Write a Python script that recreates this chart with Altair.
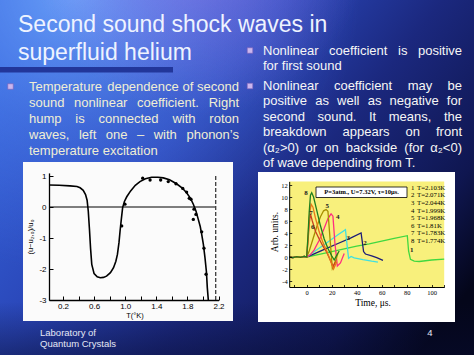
import json
import altair as alt
import pandas as pd

W, H = 474, 355

# ---------------- text content ----------------
title_lines = ["Second sound shock waves in", "superfluid helium"]
title_y = [32, 60]
left_lines = ["Temperature dependence of second", "sound nonlinear coefficient. Right",
              "hump is connected with roton", "waves, left one – with phonon’s",
              "temperature excitation"]
left_justify = [True, True, True, True, False]
left_y = [91, 107, 123, 139, 155]
right_lines = ["Nonlinear coefficient is positive", "for first sound",
               "Nonlinear coefficient may be", "positive as well as negative for",
               "second sound. It means, the", "breakdown appears on front",
               "(α₂>0) or on backside (for α₂<0)", "of wave depending from T."]
right_justify = [True, False, True, True, True, True, True, False]
right_y = [54.5, 70, 89.5, 105, 120.5, 136, 151.5, 167]
footer_lines = ["Laboratory of", "Quantum Crystals"]
page_number = "4"

# ---------------- plot 1: nonlinear coefficient vs T ----------------
curve_T = [0.02, 0.15, 0.29, 0.38, 0.42, 0.46, 0.49, 0.51, 0.525, 0.54, 0.555, 0.57, 0.60,
           0.64, 0.68, 0.72, 0.76, 0.81, 0.85, 0.88, 0.90, 0.92, 0.935, 0.95, 0.967, 0.99,
           1.02, 1.07, 1.13, 1.19, 1.26, 1.34, 1.42, 1.49, 1.57, 1.66, 1.73, 1.79, 1.84,
           1.876, 1.91, 1.94, 1.965, 1.984, 2.005, 2.026, 2.045, 2.056, 2.07]
curve_v = [0.71, 0.70, 0.68, 0.66, 0.62, 0.54, 0.40, 0.22, -0.13, -0.7, -1.35, -1.85, -2.15,
           -2.25, -2.28, -2.27, -2.23, -2.12, -1.96, -1.75, -1.53, -1.15, -0.75, -0.4, -0.02,
           0.18, 0.33, 0.52, 0.70, 0.82, 0.91, 0.96, 0.96, 0.94, 0.88, 0.75, 0.62, 0.46, 0.28,
           0.09, -0.13, -0.40, -0.63, -0.88, -1.2, -1.63, -2.1, -2.6, -3.03]
dots_T = [0.997, 0.955, 1.225, 1.32, 1.456, 1.554, 1.653, 1.74, 1.79, 1.824, 1.846, 1.885,
          1.876, 1.91, 1.984, 2.013, 2.04]
dots_v = [0.09, -0.61, 0.93, 0.87, 0.87, 0.82, 0.75, 0.60, 0.48, 0.28, 0.25, -0.07, -0.40,
          -0.24, -0.80, -1.33, -2.17]
p1_xticks = [0.2, 0.4, 0.6, 0.8, 1.0, 1.2, 1.4, 1.6, 1.8, 2.0, 2.2]
p1_xlabels = ["0.2", "0.6", "1.0", "1.4", "1.8", "2.2"]
p1_yticks = [-3, -2, -1, 0, 1]
lambda_T = 2.165
p1_xlabel = "T(°K)"
p1_ylabel = "(u−u₂,₀)/u₀"

# ---------------- plot 2: shock wave profiles ----------------
base_t = [-14, -11, -8, -5, -2, 0]
base_v = [0.0, -0.1, 0.05, -0.05, 0.1, 0.0]
curves_t = {
    "1": [10, 20, 30, 40, 50, 60, 70, 80.5, 81.5, 83, 86, 90, 100, 110],
    "2": [5, 15, 25, 35, 43.5, 44.5, 45.5, 47, 52, 56, 61],
    "3": [5, 15, 25, 31, 32.3, 33.5, 35.5, 38, 45, 52, 57],
    "4": [3, 6, 10, 14, 17, 19.5, 21, 22.5, 24.5, 27, 30],
    "5": [2, 5, 8, 11, 13.5, 15.5, 17, 18.5, 20.5, 22.5, 25],
    "6": [1, 2, 3, 4.5, 7, 10, 13, 16, 19, 21, 23],
    "7": [1, 2, 3.5, 5, 7, 10, 13, 16, 19, 21.5, 24],
    "8": [1, 2, 3, 4, 5.5, 8, 11, 14, 17, 20, 22, 24, 26],
}
curves_v = {
    "1": [0.45, 0.9, 1.35, 1.8, 2.2, 2.65, 3.1, 3.55, 1.0, -0.4, -0.7, -0.75, -0.5, -0.35],
    "2": [0.45, 1.35, 2.25, 3.15, 4.0, 2.5, 0.9, 0.5, 0.2, -0.1, -0.55],
    "3": [0.75, 2.2, 3.7, 4.55, 2.0, -0.2, 0.1, -0.15, -0.45, -0.7, -0.85],
    "4": [0.4, 1.2, 2.8, 4.8, 6.4, 7.2, 6.8, 2.5, -1.5, -1.0, 0.6],
    "5": [1.0, 3.0, 5.0, 6.7, 7.7, 7.9, 7.6, 3.5, -1.9, -1.0, 0.6],
    "6": [2.5, 5.5, 7.2, 6.0, 4.3, 3.0, 1.8, 0.8, -0.6, -1.6, -0.8],
    "7": [3.0, 6.5, 8.8, 8.3, 6.5, 4.2, 2.4, 1.0, -0.6, -2.0, -0.8],
    "8": [3.5, 7.5, 10.3, 10.7, 10.0, 7.8, 5.2, 3.0, 1.4, 0.2, -0.5, 0.3, 1.0],
}
curve_ids = ["1", "2", "3", "4", "5", "6", "7", "8"]
curve_colors = ["#40d840", "#1c1c78", "#40e0e0", "#ff2e80", "#a88e00", "#c8401e", "#e87818", "#1f7f1f"]
curve_temps = ["2.103", "2.071", "2.044", "1.999", "1.968", "1.81", "1.783", "1.774"]
label_t = [84, 46.6, 33.3, 24.8, 16.5, 4.8, 3.5, -0.5]
label_v = [1.2, 2.4, 3.2, 6.7, 8.55, 5.0, 7.3, 10.6]
p2_xticks = list(range(-10, 111, 10))
p2_yticks = [-4, -2, 0, 2, 4, 6, 8, 10, 12]
p2_box_text = "P=3atm., U=7.32V, τ=10μs."
p2_xlabel = "Time, μs."
p2_ylabel = "Arb. units."

# ---------------- helpers ----------------
AW = {" ": 278, "(": 333, ")": 333, ",": 278, "-": 333, ".": 278, "<": 584, ">": 584,
      "=": 584, "–": 556, "’": 222, "'": 191, "α": 578, "₂": 333}
for c in "0123456789":
    AW[c] = 556
AW.update(dict(zip("ABCDEFGHIJKLMNOPQRSTUVWXYZ",
                   [667, 667, 722, 722, 667, 611, 778, 722, 278, 500, 667, 556, 833, 722, 778,
                    667, 778, 722, 667, 611, 722, 667, 944, 667, 667, 611])))
AW.update(dict(zip("abcdefghijklmnopqrstuvwxyz",
                   [556, 556, 500, 556, 556, 278, 556, 556, 222, 222, 500, 222, 833, 556, 556,
                    556, 556, 333, 500, 278, 556, 500, 722, 500, 500, 500])))


def tw(s, size):
    return sum(AW.get(c, 556) for c in s) / 1000.0 * size


def layout_lines(lines, justify, ys, x0, x1, size):
    left, right = [], []
    for line, j, y in zip(lines, justify, ys):
        words = line.split(" ")
        if not j or len(words) == 1:
            left.append(dict(x=x0, y=y, text=line))
            continue
        ws = [tw(w, size) for w in words]
        gap = (x1 - x0 - sum(ws)) / (len(words) - 1)
        x = x0
        for k, (w, wd) in enumerate(zip(words, ws)):
            if k == len(words) - 1:
                right.append(dict(x=x1, y=y, text=w))
            else:
                left.append(dict(x=x, y=y, text=w))
            x += wd + gap
    return left, right


one = pd.DataFrame({"k": [0]})


def prect(x0, x1, y0, y1, **kw):
    return alt.Chart(one).mark_rect(**kw).encode(
        x=alt.value(x0), x2=alt.value(x1), y=alt.value(y0), y2=alt.value(y1))


def text_layer(rows, size, color, font="Liberation Sans", align="left", baseline="alphabetic",
               weight="normal", angle=0, opacity=1):
    df = pd.DataFrame(rows)
    return alt.Chart(df).mark_text(
        align=align, baseline=baseline, font=font, fontSize=size, fontWeight=weight,
        color=color, angle=angle, opacity=opacity).encode(
        x=alt.X("x:Q", scale=None, axis=None), y=alt.Y("y:Q", scale=None, axis=None),
        text="text:N")


def stops(pairs):
    return [alt.GradientStop(offset=o, color=c) for o, c in pairs]


layers = []

# ---------------- background ----------------
layers.append(prect(0, W, 0, H, fill=alt.LinearGradient(
    gradient="linear", x1=0, y1=0.2, x2=1, y2=0.8,
    stops=stops([(0, "#3566dc"), (0.35, "#2a46b8"), (0.6, "#1b287e"), (0.85, "#0f1650"), (1, "#04061a")]))))
layers.append(prect(0, W, 0, H, fill=alt.RadialGradient(
    gradient="radial", x1=0.16, y1=0.1, r1=0, x2=0.16, y2=0.1, r2=0.6,
    stops=stops([(0, "rgba(120,175,255,0.8)"), (0.5, "rgba(90,140,245,0.35)"), (1, "rgba(80,120,240,0)")]))))
layers.append(prect(0, W, 0, H, fill=alt.RadialGradient(
    gradient="radial", x1=0.42, y1=0.02, r1=0, x2=0.42, y2=0.02, r2=0.35,
    stops=stops([(0, "rgba(170,125,235,0.5)"), (1, "rgba(170,125,235,0)")]))))
layers.append(prect(0, W, 0, H, fill=alt.LinearGradient(
    gradient="linear", x1=0, y1=0, x2=0, y2=1,
    stops=stops([(0, "rgba(8,12,50,0)"), (0.85, "rgba(8,12,50,0)"), (1, "rgba(8,12,50,0.45)")]))))

# title bar
layers.append(prect(0, 173, 67, 72.5, fill="#22369a"))

# ---------------- title ----------------
trows = [dict(x=18, y=y, text=t) for t, y in zip(title_lines, title_y)]
layers.append(text_layer(trows, 23, "#eef3ff"))

# ---------------- bullets ----------------
bsize = 13
l_left, l_right = layout_lines(left_lines, left_justify, left_y, 29, 239, bsize)
r_left, r_right = layout_lines(right_lines, right_justify, right_y, 263, 462, bsize)
for rows, al in [(l_left, "left"), (l_right, "right")]:
    layers.append(text_layer(rows, bsize, "#f0eed4", align=al))
for rows, al in [(r_left, "left"), (r_right, "right")]:
    layers.append(text_layer(rows, bsize, "#f6f6f6", align=al))

markers = pd.DataFrame({"x": [10.5, 250, 250], "y": [86.5, 50.5, 86]})
layers.append(alt.Chart(markers).mark_square(size=30, color="#cbb6ee", stroke="#7e62b8",
                                             strokeWidth=0.6, opacity=1).encode(
    x=alt.X("x:Q", scale=None, axis=None), y=alt.Y("y:Q", scale=None, axis=None)))

# ---------------- white picture boxes ----------------
layers.append(prect(23, 233, 162, 321, fill="#fbfbfb"))
layers.append(prect(258, 455, 172, 322, fill="#ffffff"))

# ---------------- plot 1 ----------------
p1x = alt.Scale(domain=[0.02, 2.2], range=[49, 218.5], nice=False, zero=False)
p1y = alt.Scale(domain=[-3, 1.1], range=[300, 172.9], nice=False, zero=False)
lab_expr1 = ("indexof(" + json.dumps(p1_xlabels) + ", format(datum.value, '.1f')) >= 0"
             " ? format(datum.value, '.1f') : ''")
ax1x = alt.Axis(orient="top", offset=-300, values=p1_xticks, labelExpr=lab_expr1, tickSize=4,
                labelPadding=-6, labelBaseline="top", labelFlush=False, labelOverlap=False,
                domainColor="black", tickColor="black", labelColor="black",
                labelFont="Liberation Sans", labelFontSize=8, grid=False, title=None,
                domainWidth=1.3, tickWidth=1, zindex=2)
ax1y = alt.Axis(orient="right", offset=-(W - 49), values=p1_yticks, tickSize=4,
                labelExpr="format(datum.value, 'd') == '0' ? '0' : (datum.value < 0 ? '-' + format(-datum.value, 'd') : format(datum.value, 'd'))",
                labelPadding=-7, labelAlign="right", labelBaseline="middle", labelFlush=False,
                labelOverlap=False, domainColor="black", tickColor="black", labelColor="black",
                labelFont="Liberation Sans", labelFontSize=8, grid=False, title=None,
                domainWidth=1.3, tickWidth=1, zindex=2)

zero_df = pd.DataFrame({"a": [0.02], "b": [lambda_T - 0.01], "v": [0]})
layers.append(alt.Chart(zero_df).mark_rule(color="black", strokeWidth=1).encode(
    x=alt.X("a:Q", scale=p1x, axis=None), x2="b:Q", y=alt.Y("v:Q", scale=p1y, axis=None)))
lam_df = pd.DataFrame({"T": [lambda_T], "a": [-3.0], "b": [1.0]})
layers.append(alt.Chart(lam_df).mark_rule(color="black", strokeWidth=1, strokeDash=[4, 2]).encode(
    x=alt.X("T:Q", scale=p1x, axis=None), y=alt.Y("a:Q", scale=p1y, axis=None), y2="b:Q"))

c1 = pd.DataFrame({"T": curve_T, "v": curve_v, "i": range(len(curve_T))})
layers.append(alt.Chart(c1).mark_line(color="black", strokeWidth=1.6).encode(
    x=alt.X("T:Q", scale=p1x, axis=ax1x), y=alt.Y("v:Q", scale=p1y, axis=ax1y), order="i:Q"))
d1 = pd.DataFrame({"T": dots_T, "v": dots_v})
layers.append(alt.Chart(d1).mark_circle(size=11, color="black", opacity=1).encode(
    x=alt.X("T:Q", scale=p1x, axis=None), y=alt.Y("v:Q", scale=p1y, axis=None)))

layers.append(text_layer([dict(x=135, y=318, text=p1_xlabel)], 7.5, "black", align="center"))
layers.append(text_layer([dict(x=31, y=237, text=p1_ylabel)], 7.5, "black", align="center",
                         baseline="middle", angle=270))

# ---------------- plot 2 ----------------
p2x = alt.Scale(domain=[-14, 110], range=[289.2, 444.2], nice=False, zero=False)
p2y = alt.Scale(domain=[-5, 12.6], range=[287, 181.4], nice=False, zero=False)
ax2x = alt.Axis(orient="top", offset=-287, values=p2_xticks,
                labelExpr="datum.value % 20 == 0 && datum.value >= 0 ? datum.label : ''",
                tickSize=2.5, labelPadding=-4.5, labelBaseline="top", labelFlush=False,
                labelOverlap=False, domainColor="black", tickColor="black", labelColor="black",
                labelFont="Liberation Serif", labelFontSize=6.5, grid=False, title=None,
                domainWidth=1, tickWidth=0.8, zindex=2)
ax2y = alt.Axis(orient="right", offset=-(W - 289.2), values=p2_yticks, tickSize=2.5,
                labelExpr="datum.value < 0 ? '-' + format(-datum.value, 'd') : format(datum.value, 'd')",
                labelPadding=-4.5, labelAlign="right", labelBaseline="middle", labelFlush=False,
                labelOverlap=False, domainColor="black", tickColor="black", labelColor="black",
                labelFont="Liberation Serif", labelFontSize=6.5, grid=False, title=None,
                domainWidth=1, tickWidth=0.8, zindex=2)

yel = pd.DataFrame({"a": [-14], "b": [110], "c": [-5], "d": [12.6]})
layers.append(alt.Chart(yel).mark_rect(color="#f8f07c").encode(
    x=alt.X("a:Q", scale=p2x, axis=None), x2="b:Q", y=alt.Y("c:Q", scale=p2y, axis=None), y2="d:Q"))

rows = []
for cid in curve_ids:
    ts = base_t + curves_t[cid]
    vs = base_v + curves_v[cid]
    for i, (t, v) in enumerate(zip(ts, vs)):
        rows.append(dict(t=t, v=v, curve=cid, i=i))
c2 = pd.DataFrame(rows)
layers.append(alt.Chart(c2).mark_line(strokeWidth=1.3).encode(
    x=alt.X("t:Q", scale=p2x, axis=ax2x), y=alt.Y("v:Q", scale=p2y, axis=ax2y),
    color=alt.Color("curve:N", scale=alt.Scale(domain=curve_ids, range=curve_colors), legend=None),
    order="i:Q"))

lab2 = pd.DataFrame({"t": label_t, "v": label_v, "text": curve_ids})
layers.append(alt.Chart(lab2).mark_text(font="Liberation Serif", fontSize=7, fontWeight="bold",
                                        color="#202020", baseline="middle").encode(
    x=alt.X("t:Q", scale=p2x, axis=None), y=alt.Y("v:Q", scale=p2y, axis=None), text="text:N"))

# info box
layers.append(prect(316, 407, 187, 197.5, fill="white", stroke="black", strokeWidth=0.8))
layers.append(text_layer([dict(x=361.5, y=192.4, text=p2_box_text)], 6.5, "black",
                         font="Liberation Serif", align="center", baseline="middle", weight="bold"))
# legend
leg_num = [dict(x=412.7, y=187.7 + 7.6 * k, text=cid) for k, cid in enumerate(curve_ids)]
leg_txt = [dict(x=417, y=187.7 + 7.6 * k, text="T=" + tp + "K") for k, tp in enumerate(curve_temps)]
layers.append(text_layer(leg_num, 6.8, "black", font="Liberation Serif", align="center", baseline="middle"))
layers.append(text_layer(leg_txt, 6.8, "black", font="Liberation Serif", baseline="middle"))
# axis titles
layers.append(text_layer([dict(x=373, y=303, text=p2_xlabel)], 9.5, "black",
                         font="Liberation Serif", align="center", baseline="middle"))
layers.append(text_layer([dict(x=275, y=232, text=p2_ylabel)], 9.5, "black",
                         font="Liberation Serif", align="center", baseline="middle", angle=270))

# ---------------- footer ----------------
layers.append(text_layer([dict(x=40, y=335.5, text=footer_lines[0]),
                          dict(x=40, y=346.5, text=footer_lines[1])], 9.5, "#e4e7f5"))
layers.append(text_layer([dict(x=430, y=336, text=page_number)], 9.5, "#e4e7f5", align="center"))

chart = alt.layer(*layers).properties(
    width=W, height=H, padding=0, autosize=alt.AutoSizeParams(type="none"),
    background="#0b1238",
).resolve_scale(x="independent", y="independent", color="independent").configure_view(stroke=None)

chart.save("out.html", embed_options={"renderer": "svg", "actions": False})
